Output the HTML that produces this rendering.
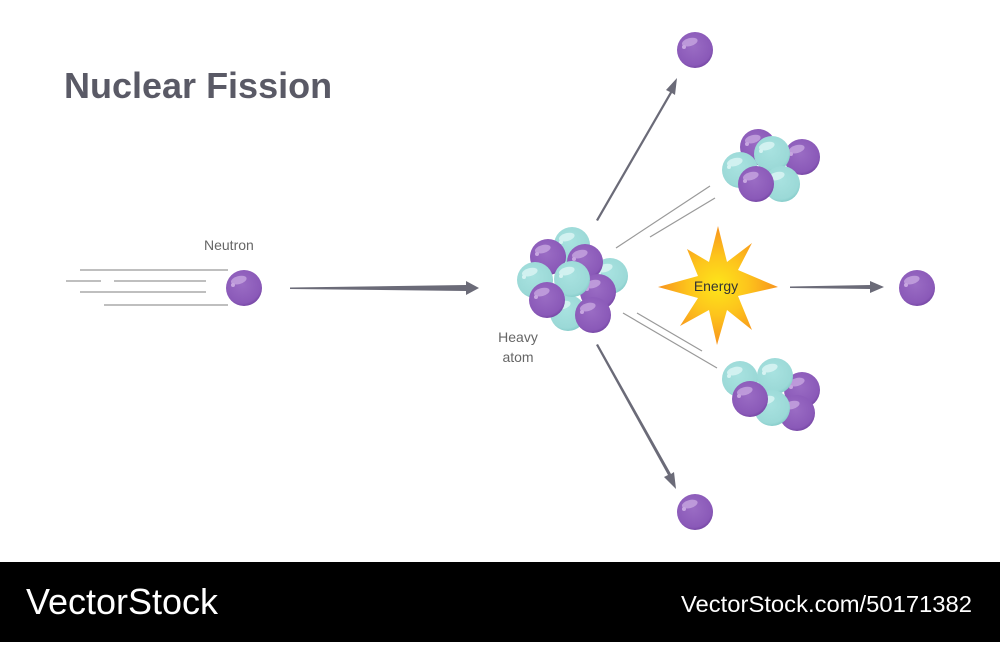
<!DOCTYPE html>
<html><head><meta charset="utf-8"><style>
body{margin:0;width:1000px;height:642px;overflow:hidden;background:#fff;font-family:"Liberation Sans",sans-serif}
</style></head><body>
<svg width="1000" height="642" viewBox="0 0 1000 642" xmlns="http://www.w3.org/2000/svg">
<defs>
<radialGradient id="gp" cx="0.45" cy="0.4" r="0.65"><stop offset="0" stop-color="#9a6cc4"/><stop offset="0.8" stop-color="#8a59b8"/><stop offset="1" stop-color="#6d3f9c"/></radialGradient>
<radialGradient id="gc" cx="0.45" cy="0.4" r="0.65"><stop offset="0" stop-color="#a8e2e0"/><stop offset="0.8" stop-color="#9bd9d7"/><stop offset="1" stop-color="#7cc6c4"/></radialGradient>
<radialGradient id="gs" cx="0.5" cy="0.5" r="0.5"><stop offset="0" stop-color="#fde61a"/><stop offset="0.5" stop-color="#fdc41c"/><stop offset="1" stop-color="#f7931e"/></radialGradient>
<g id="P"><circle r="18" fill="url(#gp)"/><ellipse cx="-3" cy="-9" rx="8" ry="4" fill="#c7a6e0" opacity="0.8" transform="rotate(-15)"/><circle cx="-11" cy="-3" r="2" fill="#c7a6e0"/></g>
<g id="C"><circle r="18" fill="url(#gc)"/><ellipse cx="-3" cy="-9" rx="8" ry="4" fill="#d6f3f2" opacity="0.9" transform="rotate(-15)"/><circle cx="-11" cy="-3" r="2" fill="#d6f3f2"/></g>
</defs>
<text x="64" y="98" font-size="36" font-weight="bold" fill="#5a5a66">Nuclear Fission</text>
<text x="204" y="250" font-size="14" fill="#666">Neutron</text>
<text x="518" y="342" font-size="14" fill="#666" text-anchor="middle">Heavy</text>
<text x="518" y="362" font-size="14" fill="#666" text-anchor="middle">atom</text>
<g stroke="#999" stroke-width="1.2">
<line x1="80" y1="270" x2="228" y2="270"/><line x1="66" y1="281" x2="101" y2="281"/><line x1="114" y1="281" x2="206" y2="281"/><line x1="80" y1="292" x2="206" y2="292"/><line x1="104" y1="305" x2="228" y2="305"/>
<line x1="616" y1="248" x2="710" y2="186"/><line x1="650" y1="237" x2="715" y2="198"/>
<line x1="623" y1="313" x2="717" y2="368"/><line x1="637" y1="313" x2="702" y2="351"/>
</g>
<g fill="#6b6b78">
<polygon points="290,287.5 466,285 466,281 479,288 466,295 466,291 290,289"/>
<polygon points="596,220 670,92 666,90 677,78 675,95 672,93 598,221"/>
<polygon points="596,345 668,475 664,477 676,489 674,472 671,474 598,344"/>
<polygon points="790,286.5 870,285 870,281 884,287 870,293 870,289 790,288"/>
</g>
<use href="#P" x="244" y="288"/>
<use href="#P" x="695" y="50"/>
<use href="#P" x="917" y="288"/>
<use href="#P" x="695" y="512"/>
<use href="#C" x="572" y="245"/><use href="#C" x="610" y="276"/>
<use href="#P" x="548" y="257"/><use href="#P" x="585" y="262"/>
<use href="#C" x="535" y="280"/><use href="#P" x="598" y="292"/>
<use href="#C" x="568" y="313"/><use href="#C" x="572" y="279"/>
<use href="#P" x="593" y="315"/><use href="#P" x="547" y="300"/>
<use href="#P" x="758" y="147"/><use href="#P" x="802" y="157"/>
<use href="#C" x="740" y="170"/><use href="#C" x="772" y="154"/>
<use href="#C" x="782" y="184"/><use href="#P" x="756" y="184"/>
<use href="#P" x="802" y="390"/><use href="#P" x="797" y="413"/>
<use href="#C" x="740" y="379"/><use href="#C" x="775" y="376"/>
<use href="#C" x="772" y="408"/><use href="#P" x="750" y="399"/>
<polygon fill="url(#gs)" points="718,226 727,262 752,243 738,270 778,287 738,296 752,330 727,310 717,345 709,310 680,326 698,298 658,287 698,276 687,249 709,262"/>
<text x="716" y="291" font-size="14" fill="#333" text-anchor="middle">Energy</text>
<rect x="0" y="562" width="1000" height="80" fill="#000"/>
<text x="26" y="614" font-size="36" fill="#fff" textLength="192" lengthAdjust="spacingAndGlyphs">VectorStock</text>
<text x="681" y="612" font-size="23" fill="#fff" textLength="291" lengthAdjust="spacingAndGlyphs">VectorStock.com/50171382</text>
</svg>
</body></html>
